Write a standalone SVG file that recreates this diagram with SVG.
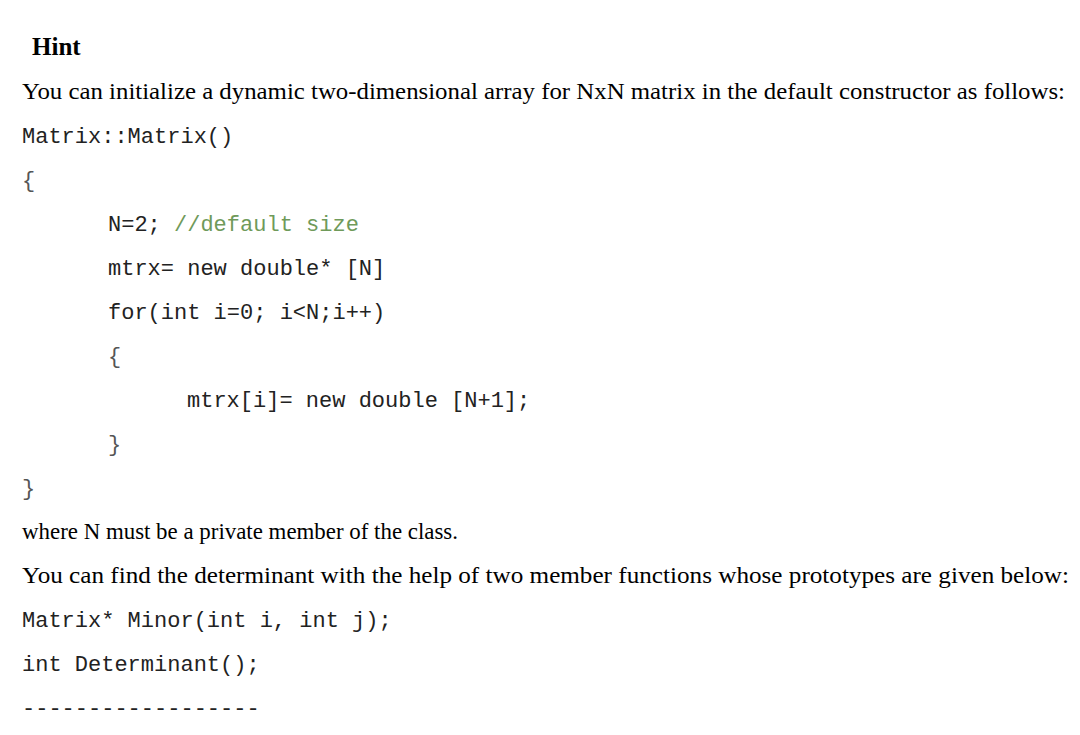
<svg xmlns="http://www.w3.org/2000/svg" width="1080" height="735" viewBox="0 0 1080 735">
<style>
.t{font-family:"Liberation Serif",serif;font-size:23px;fill:#000}
.b{font-family:"Liberation Serif",serif;font-size:25px;font-weight:bold;fill:#000}
.c{font-family:"Liberation Mono",monospace;font-size:22px;fill:#222}
.g{fill:#6f9a5a}
.p{fill:#555}
</style>
<rect width="1080" height="735" fill="#fff"/>
<text class="b" x="32" y="55">Hint</text>
<text class="t" x="22" y="99" textLength="1043" lengthAdjust="spacingAndGlyphs">You can initialize a dynamic two-dimensional array for NxN matrix in the default constructor as follows:</text>
<text class="c" x="22" y="143">Matrix::Matrix()</text>
<text class="c p" x="22" y="187">{</text>
<text class="c" x="108" y="231">N=2; <tspan class="g">//default size</tspan></text>
<text class="c" x="108" y="275">mtrx= new double* [N]</text>
<text class="c" x="108" y="319">for(int i=0; i&lt;N;i++)</text>
<text class="c p" x="108" y="363">{</text>
<text class="c" x="187" y="407">mtrx[i]= new double [N+1];</text>
<text class="c p" x="108" y="451">}</text>
<text class="c p" x="22" y="495">}</text>
<text class="t" x="22" y="539" textLength="436" lengthAdjust="spacingAndGlyphs">where N must be a private member of the class.</text>
<text class="t" x="22" y="583" textLength="1047" lengthAdjust="spacingAndGlyphs">You can find the determinant with the help of two member functions whose prototypes are given below:</text>
<text class="c" x="22" y="627">Matrix* Minor(int i, int j);</text>
<text class="c" x="22" y="671">int Determinant();</text>
<text class="c" x="22" y="715">------------------</text>
</svg>
